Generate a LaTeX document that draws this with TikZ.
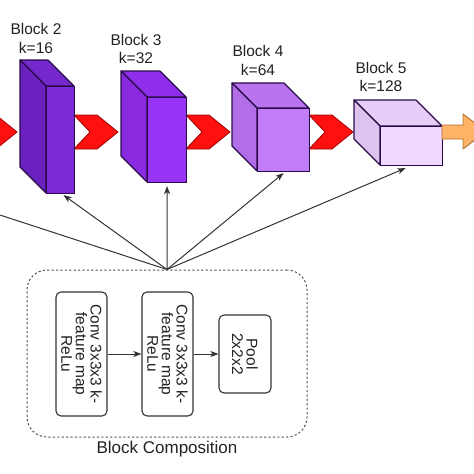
\documentclass[tikz,border=0pt]{standalone}
\usepackage{fontspec}
\setmainfont{Liberation Sans}
\usetikzlibrary{arrows.meta,calc}
\definecolor{edgeP}{HTML}{2A0A4A}
\definecolor{bTwoF}{HTML}{7B2BD6}\definecolor{bTwoS}{HTML}{6B20C0}\definecolor{bTwoT}{HTML}{7528CC}
\definecolor{bThrF}{HTML}{9633F5}\definecolor{bThrS}{HTML}{8A2BE2}\definecolor{bThrT}{HTML}{8F2EEA}
\definecolor{bFouF}{HTML}{C17CF7}\definecolor{bFouS}{HTML}{B16EE6}\definecolor{bFouT}{HTML}{B873EE}
\definecolor{bFivF}{HTML}{EFD9FF}\definecolor{bFivS}{HTML}{DCC4EE}\definecolor{bFivT}{HTML}{E6CEF8}
\definecolor{chevF}{HTML}{FF1010}\definecolor{chevD}{HTML}{A00000}
\definecolor{orF}{HTML}{FFB366}\definecolor{orD}{HTML}{B07030}
\definecolor{lineG}{HTML}{333333}\definecolor{txtG}{HTML}{222222}
\tikzset{
  cubefront/.style={draw=edgeP, line width=1.1pt, inner sep=0pt, rectangle},
  cubeedge/.style={draw=edgeP, line width=1.1pt, line join=round},
  chevron/.style={fill=chevF, draw=chevD, line width=0.8pt, line join=round},
  blocklabel/.style={font=\fontsize{15.5}{18.5}\selectfont, text=txtG, align=center, inner sep=0pt},
  link/.style={draw=lineG, line width=1pt, -{Stealth[length=8pt,width=6pt,inset=2pt]}},
  stepbox/.style={draw=lineG, line width=1.1pt, rounded corners=5pt, inner sep=0pt},
  steptext/.style={rotate=-90, align=center, font=\fontsize{15.5}{14.7}\selectfont, text=txtG},
}
\newcommand\mycube[9]{%
  \filldraw[cubeedge, fill=#9] (#2,#3) -- ++(-#6,-#6) -- ++(#4,0) -- ++(#6,#6) -- cycle;
  \filldraw[cubeedge, fill=#8] (#2,#3) -- ++(-#6,-#6) -- ++(0,#5) -- ++(#6,#6) -- cycle;
  \node[cubefront, fill=#7, minimum width=#4pt, minimum height=#5pt, anchor=north west] (#1) at (#2,#3) {};
}
\newcommand\mychev[1]{%
  \filldraw[chevron] (#1,115) -- ++(23,0) -- ++(21,17) -- ++(-21,17) -- ++(-23,0) -- ++(16,-17) -- cycle;
}
\begin{document}
\begin{tikzpicture}[x=1pt,y=-1pt]
\useasboundingbox (0,0) rectangle (474,474);
\clip (0,0) rectangle (474,474);
% chevrons
\mychev{-27}
\mychev{74}
\mychev{186}
\mychev{309}
% cubes
\mycube{b2}{46}{86}{28}{107}{26}{bTwoF}{bTwoS}{bTwoT}
\mycube{b3}{147}{97}{39}{85}{26}{bThrF}{bThrS}{bThrT}
\mycube{b4}{257}{108}{52}{63}{25}{bFouF}{bFouS}{bFouT}
\mycube{b5}{380}{126}{62}{39}{26}{bFivF}{bFivS}{bFivT}
% output arrow
\filldraw[fill=orF, draw=orD, line width=0.9pt, line join=round]
  (442,125) -- (463,125) -- (463,114) -- (486,131.5) -- (463,149) -- (463,139) -- (442,139) -- cycle;
% labels
\node[blocklabel] (l2) at (36,38.5) {Block 2\\k=16};
\node[blocklabel] (l3) at (136,49) {Block 3\\k=32};
\node[blocklabel] (l4) at (258,60.5) {Block 4\\k=64};
\node[blocklabel] (l5) at (381,77) {Block 5\\k=128};
% block composition
\node[draw=lineG!85, line width=1pt, dash pattern=on 2.2pt off 2.2pt, rounded corners=20pt,
      minimum width=280pt, minimum height=167pt, inner sep=0pt] (comp) at (167,353.5) {};
\node[font=\fontsize{17}{20}\selectfont, text=txtG] (comptitle) at (167,449) {Block Composition};
\node[stepbox, minimum width=51pt, minimum height=124pt] (c1) at (81.5,354) {};
\node[steptext] (c1t) at (c1.center) {Conv 3x3x3 k-\\feature map\\ReLu};
\node[stepbox, minimum width=51pt, minimum height=124pt] (c2) at (167.5,354) {};
\node[steptext] (c2t) at (c2.center) {Conv 3x3x3 k-\\feature map\\ReLu};
\node[stepbox, minimum width=52pt, minimum height=78pt] (p1) at (245,354) {};
\node[steptext] (p1t) at (p1.center) {Pool\\2x2x2};
\draw[link] (c1.east) -- (c2.west);
\draw[link] (c2.east) -- (p1.west);
% fan-out links
\coordinate (b1) at (-40,202);
\draw[link] (comp.north) -- (b1);
\draw[link] (comp.north) -- ($(b2.south)+(3,1)$);
\draw[link] (comp.north) -- ($(b3.south)+(0,3)$);
\draw[link] (comp.north) -- ($(b4.south)+(0,1)$);
\draw[link] (comp.north) -- ($(b5.south)+(-6,2)$);
\end{tikzpicture}
\end{document}
